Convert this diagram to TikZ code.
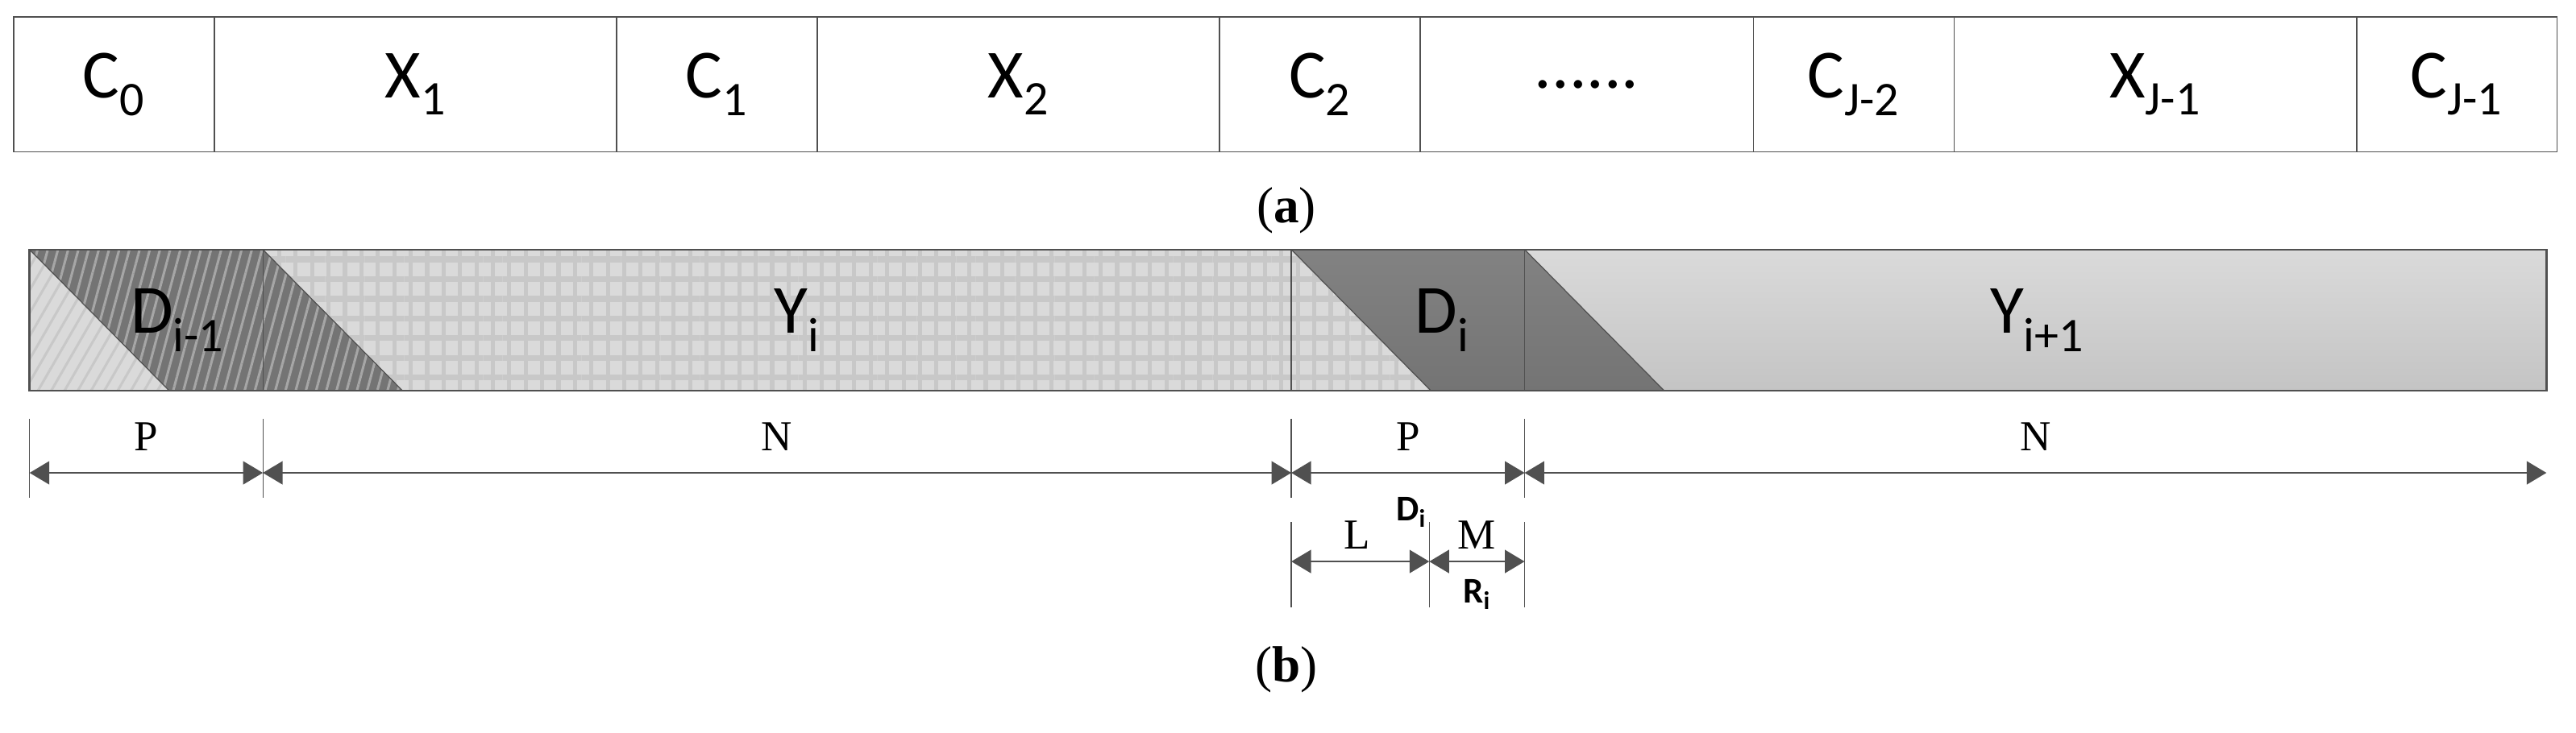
\documentclass[tikz,border=0pt]{standalone}
\usepackage{fontspec}
\setmainfont{Liberation Serif}
\newfontfamily\calfont{Carlito}
\usetikzlibrary{arrows.meta,patterns.meta}
\definecolor{edge}{HTML}{505050}
\definecolor{dk}{HTML}{747474}
\definecolor{dktop}{HTML}{828282}
\definecolor{lt}{HTML}{DADADA}
\definecolor{ltb}{HTML}{C4C4C4}
\definecolor{gridc}{HTML}{C8C8C8}
\begin{document}
\begin{tikzpicture}[x=1pt,y=-1pt,
  cell/.style={draw=edge,line width=0.8pt,fill=white,minimum height=82pt,inner sep=0pt,font=\calfont\fontsize{42}{42}\selectfont},
  big/.style={font=\calfont\fontsize{42}{42}\selectfont,inner sep=0pt},
  dimlab/.style={font=\fontsize{26}{26}\selectfont,inner sep=0pt},
  small/.style={font=\calfont\bfseries\fontsize{22}{22}\selectfont,inner sep=0pt},
  dim/.style={draw=edge,line width=1.3pt,{Triangle[length=12pt,width=14pt]}-{Triangle[length=12pt,width=14pt]}},
  ext/.style={draw=edge,line width=0.6pt}]
\useasboundingbox (0,0) rectangle (1568,446);
% row (a)
\foreach \n/\a/\b/\t in {c0/8/130/{C\textsubscript{0}},x1/130/375/{X\textsubscript{1}},c1/375/497/{C\textsubscript{1}},x2/497/742/{X\textsubscript{2}},c2/742/864/{C\textsubscript{2}},dd/864/1067/{......},cj2/1067/1189/{C\textsubscript{J-2}},xj1/1189/1434/{X\textsubscript{J-1}},cj1/1434/1556/{C\textsubscript{J-1}}}
  \node[cell,minimum width=\b pt-\a pt,anchor=north west] (\n) at (\a,10) {\t};
\node[font=\fontsize{31}{31}\selectfont] (la) at (783,128) {(\textbf{a})};
% row (b) regions
\fill[lt] (18,152) rectangle (160,238);
\path[pattern={Lines[distance=7pt,angle=60,line width=1.5pt]},pattern color=gridc] (18,152) rectangle (160,238);
\fill[dk] (18,152) -- (160,152) -- (160,238) -- (103,238) -- cycle;
\path[pattern={Lines[distance=6pt,angle=75,line width=1.5pt]},pattern color=gray!70] (18,152) -- (160,152) -- (160,238) -- (103,238) -- cycle;
\fill[lt] (160,152) rectangle (870,238);
\path[pattern={Lines[distance=12pt,angle=0,line width=3.5pt]},pattern color=gridc] (160,152) rectangle (870,238);
\path[pattern={Lines[distance=10pt,angle=90,line width=2.5pt]},pattern color=gridc] (160,152) rectangle (870,238);
\fill[dk] (160,152) -- (245,238) -- (160,238) -- cycle;
\path[pattern={Lines[distance=6pt,angle=75,line width=1.5pt]},pattern color=gray!70] (160,152) -- (245,238) -- (160,238) -- cycle;
\shade[top color=dktop,bottom color=dk] (786,152) -- (928,152) -- (928,238) -- (871,238) -- cycle;
\shade[top color=lt,bottom color=ltb] (928,152) rectangle (1550,238);
\shade[top color=dktop,bottom color=dk] (928,152) -- (1013,238) -- (928,238) -- cycle;
\draw[edge,line width=0.6pt] (18,152) -- (103,238) (160,152) -- (245,238) (786,152) -- (871,238) (928,152) -- (1013,238);
\draw[edge,line width=0.6pt] (160,152) -- (160,238) (786,152) -- (786,238) (928,152) -- (928,238);
\draw[edge,line width=1.2pt] (18,152) rectangle (1550,238);
\node[big] (d1) at (108,195) {D\textsubscript{i-1}};
\node[big] (yi) at (485,195) {Y\textsubscript{i}};
\node[big] (di) at (878,195) {D\textsubscript{i}};
\node[big] (y1) at (1240,195) {Y\textsubscript{i+1}};
% dimensions
\foreach \n/\x in {e0/18,e1/160,e2/786,e3/928,e4/1550}{
  \coordinate (\n t) at (\x,255); \coordinate (\n) at (\x,288); \coordinate (\n b) at (\x,303);}
\foreach \n in {e0,e1,e2,e3}{\draw[ext] (\n t) -- (\n b);}
\draw[dim] (e0) -- (e1);
\draw[dim] (e1) -- (e2);
\draw[dim] (e2) -- (e3);
\draw[dim] (e3) -- (e4);
\node[dimlab] (p1) at (89,266) {P};
\node[dimlab] (n1) at (473,266) {N};
\node[dimlab] (p2) at (857,266) {P};
\node[dimlab] (n2) at (1239,266) {N};
\foreach \n/\x in {f0/786,f1/870,f2/928}{
  \coordinate (\n t) at (\x,318); \coordinate (\n) at (\x,342); \coordinate (\n b) at (\x,370);
  \draw[ext] (\n t) -- (\n b);}
\draw[dim] (f0) -- (f1);
\draw[dim] (f1) -- (f2);
\node[dimlab] (l) at (826,326) {L};
\node[dimlab] (m) at (899,326) {M};
\node[small] (ds) at (859,312) {D\textsubscript{i}};
\node[small] (rs) at (899,362) {R\textsubscript{i}};
\node[font=\fontsize{31}{31}\selectfont] (lb) at (783,408) {(\textbf{b})};
\end{tikzpicture}
\end{document}
